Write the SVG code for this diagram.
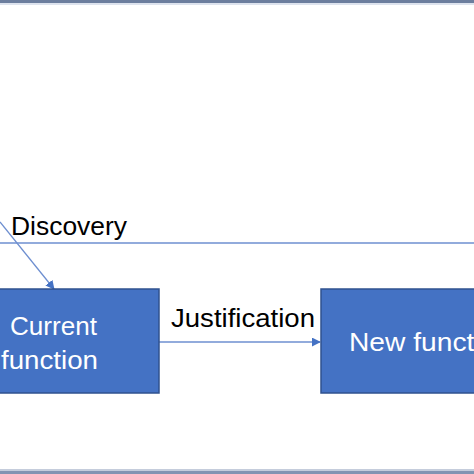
<svg xmlns="http://www.w3.org/2000/svg" width="474" height="474" viewBox="0 0 474 474">
<style>
.box{fill:#4472C4;stroke:#2F528F;stroke-width:1.5}
.wt{fill:#fff;font-family:"Liberation Sans",Arial,sans-serif;font-size:26px}
.bt{fill:#000;font-family:"Liberation Sans",Arial,sans-serif;font-size:25px}
.ln{stroke:#6E8FD0;stroke-width:1.3;fill:none}
</style>
<defs>
<marker id="ah" viewBox="0 0 10 10" refX="9" refY="5" markerWidth="9" markerHeight="9" markerUnits="userSpaceOnUse" orient="auto">
<path d="M0,0L10,5L0,10z" fill="#4472C4"/>
</marker>
</defs>
<rect width="474" height="474" fill="#fff"/>
<rect x="0" y="0" width="474" height="3" fill="#6C7E9E"/>
<rect x="0" y="3" width="474" height="2" fill="#DDE3EE"/>
<rect x="0" y="469" width="474" height="2" fill="#C5CDDC"/>
<rect x="0" y="471" width="474" height="3" fill="#8394B2"/>
<g id="connectors">
<line class="ln" x1="0" y1="222" x2="54" y2="289" marker-end="url(#ah)"/>
<line class="ln" x1="0" y1="243" x2="474" y2="243"/>
<line class="ln" x1="159" y1="342" x2="320" y2="342" marker-end="url(#ah)"/>
</g>
<g id="discovery-label"><text class="bt" x="11" y="235" textLength="116" lengthAdjust="spacingAndGlyphs">Discovery</text></g>
<g id="justification-label"><text class="bt" x="171" y="327" textLength="144" lengthAdjust="spacingAndGlyphs">Justification</text></g>
<g id="current">
<rect class="box" x="-10" y="289" width="169" height="104"/>
<text class="wt" x="10" y="335" textLength="87" lengthAdjust="spacingAndGlyphs">Current</text>
<text class="wt" x="1" y="369" textLength="97" lengthAdjust="spacingAndGlyphs">function</text>
</g>
<g id="new">
<rect class="box" x="321" y="289" width="170" height="104"/>
<text class="wt" x="349" y="351" textLength="163" lengthAdjust="spacingAndGlyphs">New function</text>
</g>
</svg>
